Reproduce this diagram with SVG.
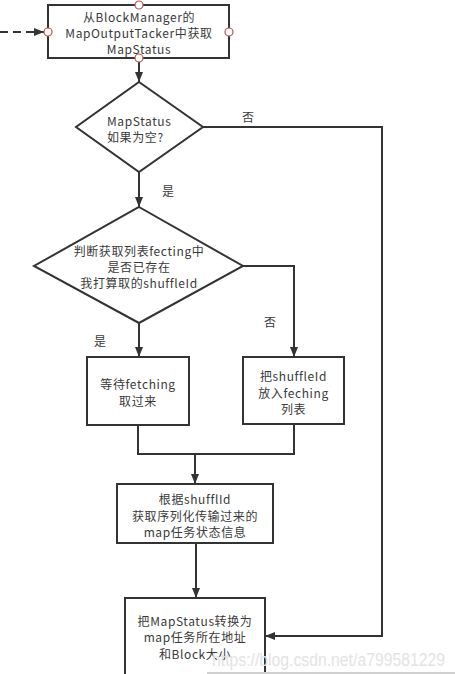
<svg xmlns="http://www.w3.org/2000/svg" width="455" height="674" viewBox="0 0 455 674">
<defs>
<marker id="ah" viewBox="0 0 10 10" refX="10" refY="5" markerWidth="10" markerHeight="10" markerUnits="userSpaceOnUse" orient="auto">
<path d="M0,1 L10,5 L0,9 Z" fill="#333"/>
</marker>
</defs>
<style>
.n{fill:#fff;stroke:#333;stroke-width:2}
.c{fill:none;stroke:#333;stroke-width:2}
.p{fill:#fff;stroke:#b85450;stroke-width:1.2}
text{font-family:"Noto Sans CJK SC","Microsoft YaHei",sans-serif;font-size:12px;letter-spacing:0.6px;fill:#3a3a3a;text-anchor:middle;dominant-baseline:central}
.l{letter-spacing:0}
.w{font-family:"Liberation Sans",Arial,sans-serif;font-size:18px;letter-spacing:0;fill:#e3e3e3;text-anchor:start}
</style>
<rect width="455" height="674" fill="#fff"/>
<g id="connectors">
<path class="c" d="M0,32 L44,32" stroke-dasharray="8,5" marker-end="url(#ah)"/>
<path class="c" d="M139,58 L139,82" marker-end="url(#ah)"/>
<path class="c" d="M139,172 L139,207" marker-end="url(#ah)"/>
<path class="c" d="M203,127 L382,127 L382,636 L265,636" marker-end="url(#ah)"/>
<path class="c" d="M243,266 L294,266 L294,357" marker-end="url(#ah)"/>
<path class="c" d="M139,323 L139,357" marker-end="url(#ah)"/>
<path class="c" d="M138,425 L138,454 L195,454 L195,484" marker-end="url(#ah)"/>
<path class="c" d="M294,424 L294,454 L195,454"/>
<path class="c" d="M196,543 L196,598" marker-end="url(#ah)"/>
<text class="l" x="248" y="116">否</text>
<text class="l" x="168" y="190">是</text>
<text class="l" x="270" y="321">否</text>
<text class="l" x="100" y="340">是</text>
</g>
<g id="start">
<rect class="n" x="48" y="5" width="181" height="53"/>
<text x="139" y="16">从BlockManager的</text>
<text x="139" y="32">MapOutputTacker中获取</text>
<text x="139" y="48">MapStatus</text>
<circle class="p" cx="139" cy="5" r="4"/>
<circle class="p" cx="48" cy="32" r="4"/>
<circle class="p" cx="229" cy="32" r="4"/>
<circle class="p" cx="139" cy="58" r="4"/>
</g>
<g id="check-empty">
<polygon class="n" points="139,82 203,127 139,172 76,127"/>
<text x="107" y="120" style="text-anchor:start">MapStatus</text>
<text x="107" y="136" style="text-anchor:start">如果为空?</text>
</g>
<g id="check-fetching">
<polygon class="n" points="139,207 243,266 139,323 34,266"/>
<text x="139" y="250">判断获取列表fecting中</text>
<text x="139" y="266">是否已存在</text>
<text x="139" y="282">我打算取的shuffleId</text>
</g>
<g id="wait">
<rect class="n" x="87" y="357" width="102" height="68"/>
<text x="138" y="383">等待fetching</text>
<text x="138" y="400">取过来</text>
</g>
<g id="add">
<rect class="n" x="243" y="357" width="101" height="67"/>
<text x="293.5" y="375">把shuffleId</text>
<text x="293.5" y="392">放入feching</text>
<text x="293.5" y="408">列表</text>
</g>
<g id="fetch">
<rect class="n" x="117" y="484" width="156" height="59"/>
<text x="195" y="498">根据shufflId</text>
<text x="195" y="515">获取序列化传输过来的</text>
<text x="195" y="531">map任务状态信息</text>
</g>
<g id="convert">
<rect class="n" x="125" y="598" width="140" height="90"/>
<text x="195" y="620">把MapStatus转换为</text>
<text x="195" y="636">map任务所在地址</text>
<text x="195" y="653">和Block大小</text>
</g>
<text class="w" x="212" y="660" textLength="233" lengthAdjust="spacingAndGlyphs">https://blog.csdn.net/a799581229</text>
<rect x="207" y="672" width="248" height="2" fill="#d0d0d0"/>
</svg>
